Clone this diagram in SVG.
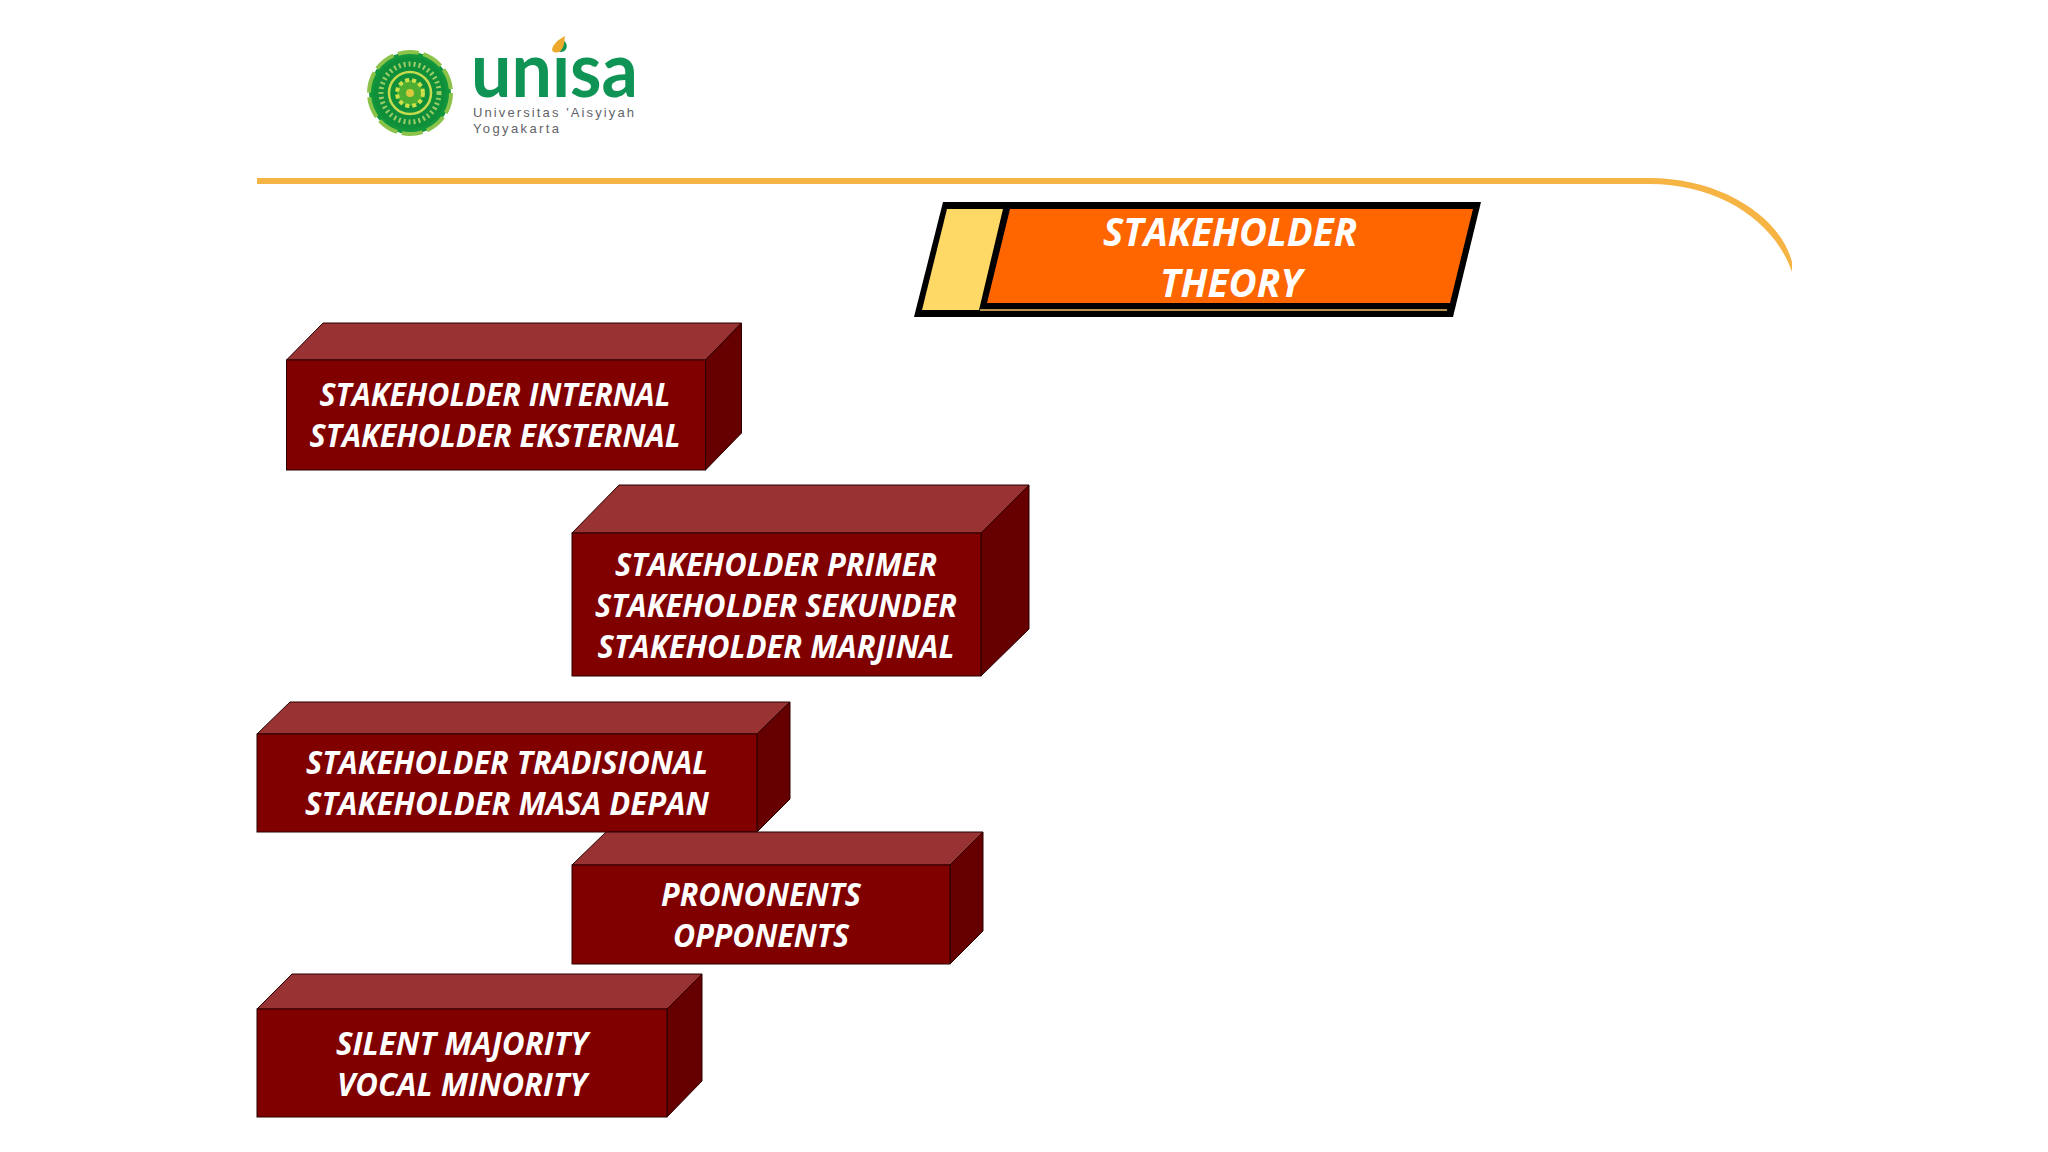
<svg xmlns="http://www.w3.org/2000/svg" width="2048" height="1152" viewBox="0 0 2048 1152">
<style>
.front{fill:#800000;stroke:#2a0000;stroke-width:1}
.top{fill:#993333;stroke:#2a0000;stroke-width:1}
.side{fill:#660000;stroke:#2a0000;stroke-width:1}
.t{font-family:"Open Sans","Noto Sans",sans-serif;font-weight:700;font-style:italic;fill:#fff;font-size:33px;text-anchor:middle}
.h{font-size:40px}
.u{font-family:"Liberation Sans",sans-serif;fill:#5f6368;font-size:13px}
</style>
<rect width="2048" height="1152" fill="#fff"/>
<g id="logo">
<circle cx="410" cy="93" r="41" fill="#12963c" stroke="#8bc34a" stroke-width="4" stroke-dasharray="21 4.8"/>
<circle cx="410" cy="93" r="36" fill="#0f8f3a"/>
<circle cx="410" cy="93" r="29" fill="none" stroke="#9ccc65" stroke-width="5" stroke-dasharray="2 3"/>
<circle cx="410" cy="93" r="21" fill="none" stroke="#c6dc4e" stroke-width="2.500"/>
<circle cx="410" cy="93" r="13" fill="#4caf32" stroke="#cfe04a" stroke-width="4" stroke-dasharray="4 3"/>
<circle cx="410" cy="93" r="4" fill="#d8c93c"/>
<text x="471" y="97" font-family="Lato,'Liberation Sans',sans-serif" font-weight="700" font-size="76" fill="#0f9455" textLength="167" lengthAdjust="spacingAndGlyphs">unisa</text>
<path d="M552 50c1-6 6-10 13-14-1 4 0 9-3 13-2 4-8 5-10 1z" fill="#eda92c"/>
<text class="u" x="473" y="117" textLength="161" lengthAdjust="spacing">Universitas 'Aisyiyah</text>
<text class="u" x="473" y="133" textLength="86" lengthAdjust="spacing">Yogyakarta</text>
</g>
<path id="rule" d="M257 178H1650C1720 178 1780 216 1792 262V272C1775 222 1720 184 1650 184H257z" fill="#f6b445"/>
<g id="title">
<polygon points="943,202 1481,202 1453,317 914,317" fill="#000"/>
<polygon points="947,209 1003,209 979,310 922,310" fill="#ffd966"/>
<polygon points="1010,209 1473,209 1450,303 987,303" fill="#ff6600"/>
<path d="M980 310H1447" stroke="#f5c264" stroke-width="1.500"/>
<text class="t h" x="1230" y="246" textLength="254" lengthAdjust="spacingAndGlyphs">STAKEHOLDER</text>
<text class="t h" x="1231" y="297" textLength="142" lengthAdjust="spacingAndGlyphs">THEORY</text>
</g>
<g id="box1">
<polygon class="top" points="286.500,360 323,323 741.500,323 705.500,360"/>
<polygon class="side" points="705.500,360 741.500,323 741.500,433 705.500,470"/>
<rect class="front" x="286.500" y="360" width="419" height="110"/>
<text class="t" x="495" y="406" textLength="351" lengthAdjust="spacingAndGlyphs">STAKEHOLDER INTERNAL</text>
<text class="t" x="495" y="447" textLength="371" lengthAdjust="spacingAndGlyphs">STAKEHOLDER EKSTERNAL</text>
</g>
<g id="box2">
<polygon class="top" points="572,533 619,485 1029,485 981,533"/>
<polygon class="side" points="981,533 1029,485 1029,629 981,676"/>
<rect class="front" x="572" y="533" width="409" height="143"/>
<text class="t" x="776" y="576" textLength="322" lengthAdjust="spacingAndGlyphs">STAKEHOLDER PRIMER</text>
<text class="t" x="776" y="617" textLength="362" lengthAdjust="spacingAndGlyphs">STAKEHOLDER SEKUNDER</text>
<text class="t" x="776" y="658" textLength="357" lengthAdjust="spacingAndGlyphs">STAKEHOLDER MARJINAL</text>
</g>
<g id="box3">
<polygon class="top" points="257,734 290,702 790,702 757,734"/>
<polygon class="side" points="757,734 790,702 790,799 757,832"/>
<rect class="front" x="257" y="734" width="500" height="98"/>
<text class="t" x="507" y="774" textLength="402" lengthAdjust="spacingAndGlyphs">STAKEHOLDER TRADISIONAL</text>
<text class="t" x="507" y="815" textLength="404" lengthAdjust="spacingAndGlyphs">STAKEHOLDER MASA DEPAN</text>
</g>
<g id="box4">
<polygon class="top" points="572,865 606,832 983,832 950,865"/>
<polygon class="side" points="950,865 983,832 983,931 950,964"/>
<rect class="front" x="572" y="865" width="378" height="99"/>
<text class="t" x="761" y="906" textLength="200" lengthAdjust="spacingAndGlyphs">PRONONENTS</text>
<text class="t" x="761" y="947" textLength="176" lengthAdjust="spacingAndGlyphs">OPPONENTS</text>
</g>
<g id="box5">
<polygon class="top" points="257,1009 292,974 702,974 667,1009"/>
<polygon class="side" points="667,1009 702,974 702,1081 667,1117"/>
<rect class="front" x="257" y="1009" width="410" height="108"/>
<text class="t" x="462" y="1055" textLength="252" lengthAdjust="spacingAndGlyphs">SILENT MAJORITY</text>
<text class="t" x="462" y="1096" textLength="250" lengthAdjust="spacingAndGlyphs">VOCAL MINORITY</text>
</g>
</svg>
